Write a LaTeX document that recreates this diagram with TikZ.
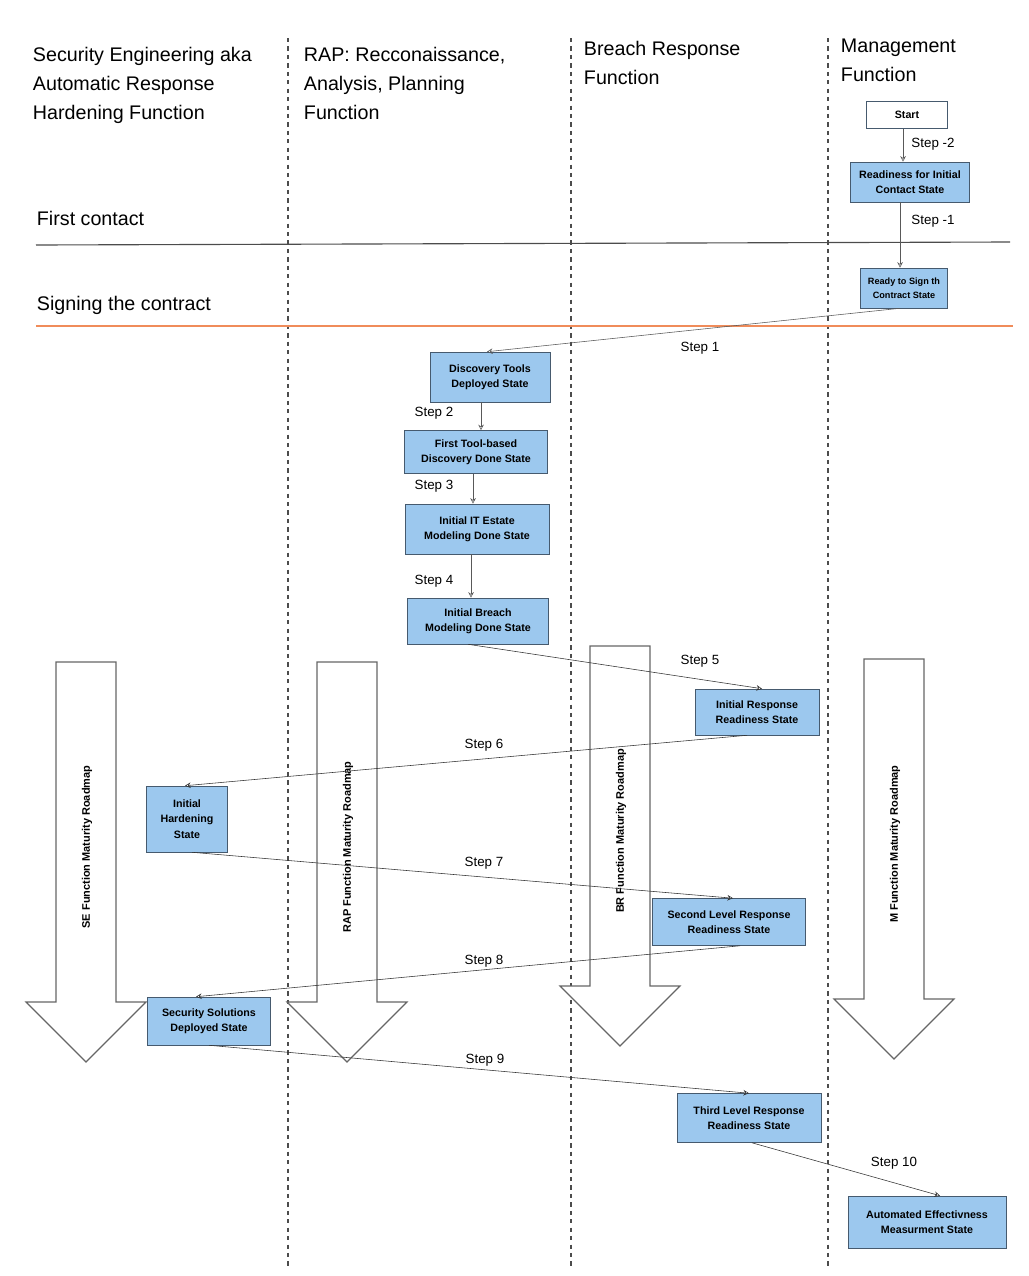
\documentclass[tikz,border=0pt]{standalone}
\usepackage{fontspec}
\setmainfont{Liberation Sans}
\usepackage{tikz}
\usetikzlibrary{arrows.meta,positioning,calc,shapes}
\definecolor{stateblue}{RGB}{156,200,238}
\definecolor{stateedge}{RGB}{70,90,110}
\definecolor{contractline}{RGB}{240,140,90}
\tikzset{
  state/.style={draw=stateedge,fill=stateblue,align=center,inner sep=0pt,font=\fontsize{7.6}{11}\selectfont\bfseries},
  stepline/.style={-{Stealth[open,length=4pt,width=4pt]},draw=black!80},
  steplabel/.style={font=\fontsize{9.5}{11}\selectfont},
  header/.style={anchor=north west,align=left,font=\fontsize{14}{20.6}\selectfont},
  lane/.style={dashed,black!70,thick},
  roadmap/.style={draw=black!60,fill=white,line width=0.8pt},
  roadlabel/.style={rotate=90,font=\fontsize{7.8}{9}\selectfont\bfseries}
}
\newcommand{\roadarrow}[5]{% left, right, top, head y, tip y
  \pgfmathsetmacro{\arrowmid}{(#1+#2)/2}
  \draw[roadmap] (#1,#3) -- (#2,#3) -- (#2,#4) -- (\arrowmid+60,#4) -- (\arrowmid,#5) -- (\arrowmid-60,#4) -- (#1,#4) -- cycle;
}
\begin{document}
\begin{tikzpicture}[x=0.025cm,y=-0.025cm]
\useasboundingbox (0,0) rectangle (1029,1276);

% Swim lanes
\foreach \x in {288,571,828}
  \draw[lane] (\x,38) -- (\x,1266);

% Headers
\node[header] at (28,42) {Security Engineering aka\\Automatic Response\\Hardening Function};
\node[header] at (299,42) {RAP: Recconaissance,\\Analysis, Planning\\Function};
\node[header] at (579,36) {Breach Response\\Function};
\node[header] at (836,34) {Management\\Function};

% Phase lines
\draw[black!70,thick] (36,245) -- (1010,242);
\draw[contractline,thick] (36,326) -- (1013,326);
\node[anchor=west,font=\fontsize{14}{16}\selectfont] at (32,218) {First contact};
\node[anchor=west,font=\fontsize{14}{16}\selectfont] at (32,305) {Signing the contract};

% Roadmap arrows
\roadarrow{56}{116}{662}{1002}{1062}
\roadarrow{317}{377}{662}{1002}{1062}
\roadarrow{590}{650}{646}{986}{1046}
\roadarrow{864}{924}{659}{999}{1059}
\node[roadlabel] at (87,847) {SE Function Maturity Roadmap};
\node[roadlabel] at (348,847) {RAP Function Maturity Roadmap};
\node[roadlabel] at (621,831) {BR Function Maturity Roadmap};
\node[roadlabel] at (895,844) {M Function Maturity Roadmap};

% States
\node[state,fill=white,minimum width=81*0.025cm,minimum height=27*0.025cm] (start) at (907,115) {Start};
\node[state,minimum width=119*0.025cm,minimum height=40*0.025cm] (ready) at (910,182) {Readiness for Initial\\Contact State};
\node[state,minimum width=87*0.025cm,minimum height=40*0.025cm,font=\fontsize{6.5}{10}\selectfont\bfseries] (sign) at (904,288) {Ready to Sign th\\Contract State};
\node[state,minimum width=120*0.025cm,minimum height=50*0.025cm] (tools) at (490,377) {Discovery Tools\\Deployed State};
\node[state,minimum width=143*0.025cm,minimum height=43*0.025cm] (discovery) at (476,452) {First Tool-based\\Discovery Done State};
\node[state,minimum width=144*0.025cm,minimum height=50*0.025cm] (itmodel) at (477,529) {Initial IT Estate\\Modeling Done State};
\node[state,minimum width=141*0.025cm,minimum height=46*0.025cm] (breach) at (478,621) {Initial Breach\\Modeling Done State};
\node[state,minimum width=124*0.025cm,minimum height=46*0.025cm] (resp1) at (757,712) {Initial Response\\Readiness State};
\node[state,minimum width=81*0.025cm,minimum height=66*0.025cm] (harden) at (187,819) {Initial\\Hardening\\State};
\node[state,minimum width=153*0.025cm,minimum height=47*0.025cm] (resp2) at (729,922) {Second Level Response\\Readiness State};
\node[state,minimum width=123*0.025cm,minimum height=48*0.025cm] (secsol) at (209,1021) {Security Solutions\\Deployed State};
\node[state,minimum width=144*0.025cm,minimum height=49*0.025cm] (resp3) at (749,1118) {Third Level Response\\Readiness State};
\node[state,minimum width=158*0.025cm,minimum height=52*0.025cm] (auto) at (927,1222) {Automated Effectivness\\Measurment State};

% Steps
\draw[stepline,draw=black!65] ([xshift=-4*0.025cm]start.south) -- ([xshift=-7*0.025cm]ready.north);
\draw[stepline,draw=black!65] ([xshift=-10*0.025cm]ready.south) -- ([xshift=-4*0.025cm]sign.north);
\draw[stepline,draw=black!65] ([xshift=-4*0.025cm]sign.south) -- ([xshift=-3*0.025cm]tools.north);
\draw[stepline,draw=black!65] ([xshift=-9*0.025cm]tools.south) -- ([xshift=5*0.025cm]discovery.north);
\draw[stepline,draw=black!65] ([xshift=-3*0.025cm]discovery.south) -- ([xshift=-4*0.025cm]itmodel.north);
\draw[stepline,draw=black!65] ([xshift=-6*0.025cm]itmodel.south) -- ([xshift=-7*0.025cm]breach.north);
\draw[stepline] ([xshift=-10*0.025cm]breach.south) -- ([xshift=5*0.025cm]resp1.north);
\draw[stepline] ([xshift=-10*0.025cm]resp1.south) -- ([xshift=-2*0.025cm]harden.north);
\draw[stepline] ([xshift=5*0.025cm]harden.south) -- ([xshift=4*0.025cm]resp2.north);
\draw[stepline] ([xshift=11*0.025cm]resp2.south) -- ([xshift=-13*0.025cm]secsol.north);
\draw[stepline] (secsol.south) -- (resp3.north);
\draw[stepline] ([xshift=3*0.025cm]resp3.south) -- ([xshift=13*0.025cm]auto.north);

% Step labels
\node[steplabel] at (933,144) {Step -2};
\node[steplabel] at (933,221) {Step -1};
\node[steplabel] at (700,348) {Step 1};
\node[steplabel] at (434,413) {Step 2};
\node[steplabel] at (434,486) {Step 3};
\node[steplabel] at (434,581) {Step 4};
\node[steplabel] at (700,661) {Step 5};
\node[steplabel] at (484,745) {Step 6};
\node[steplabel] at (484,863) {Step 7};
\node[steplabel] at (484,961) {Step 8};
\node[steplabel] at (485,1060) {Step 9};
\node[steplabel] at (894,1163) {Step 10};
\end{tikzpicture}
\end{document}
